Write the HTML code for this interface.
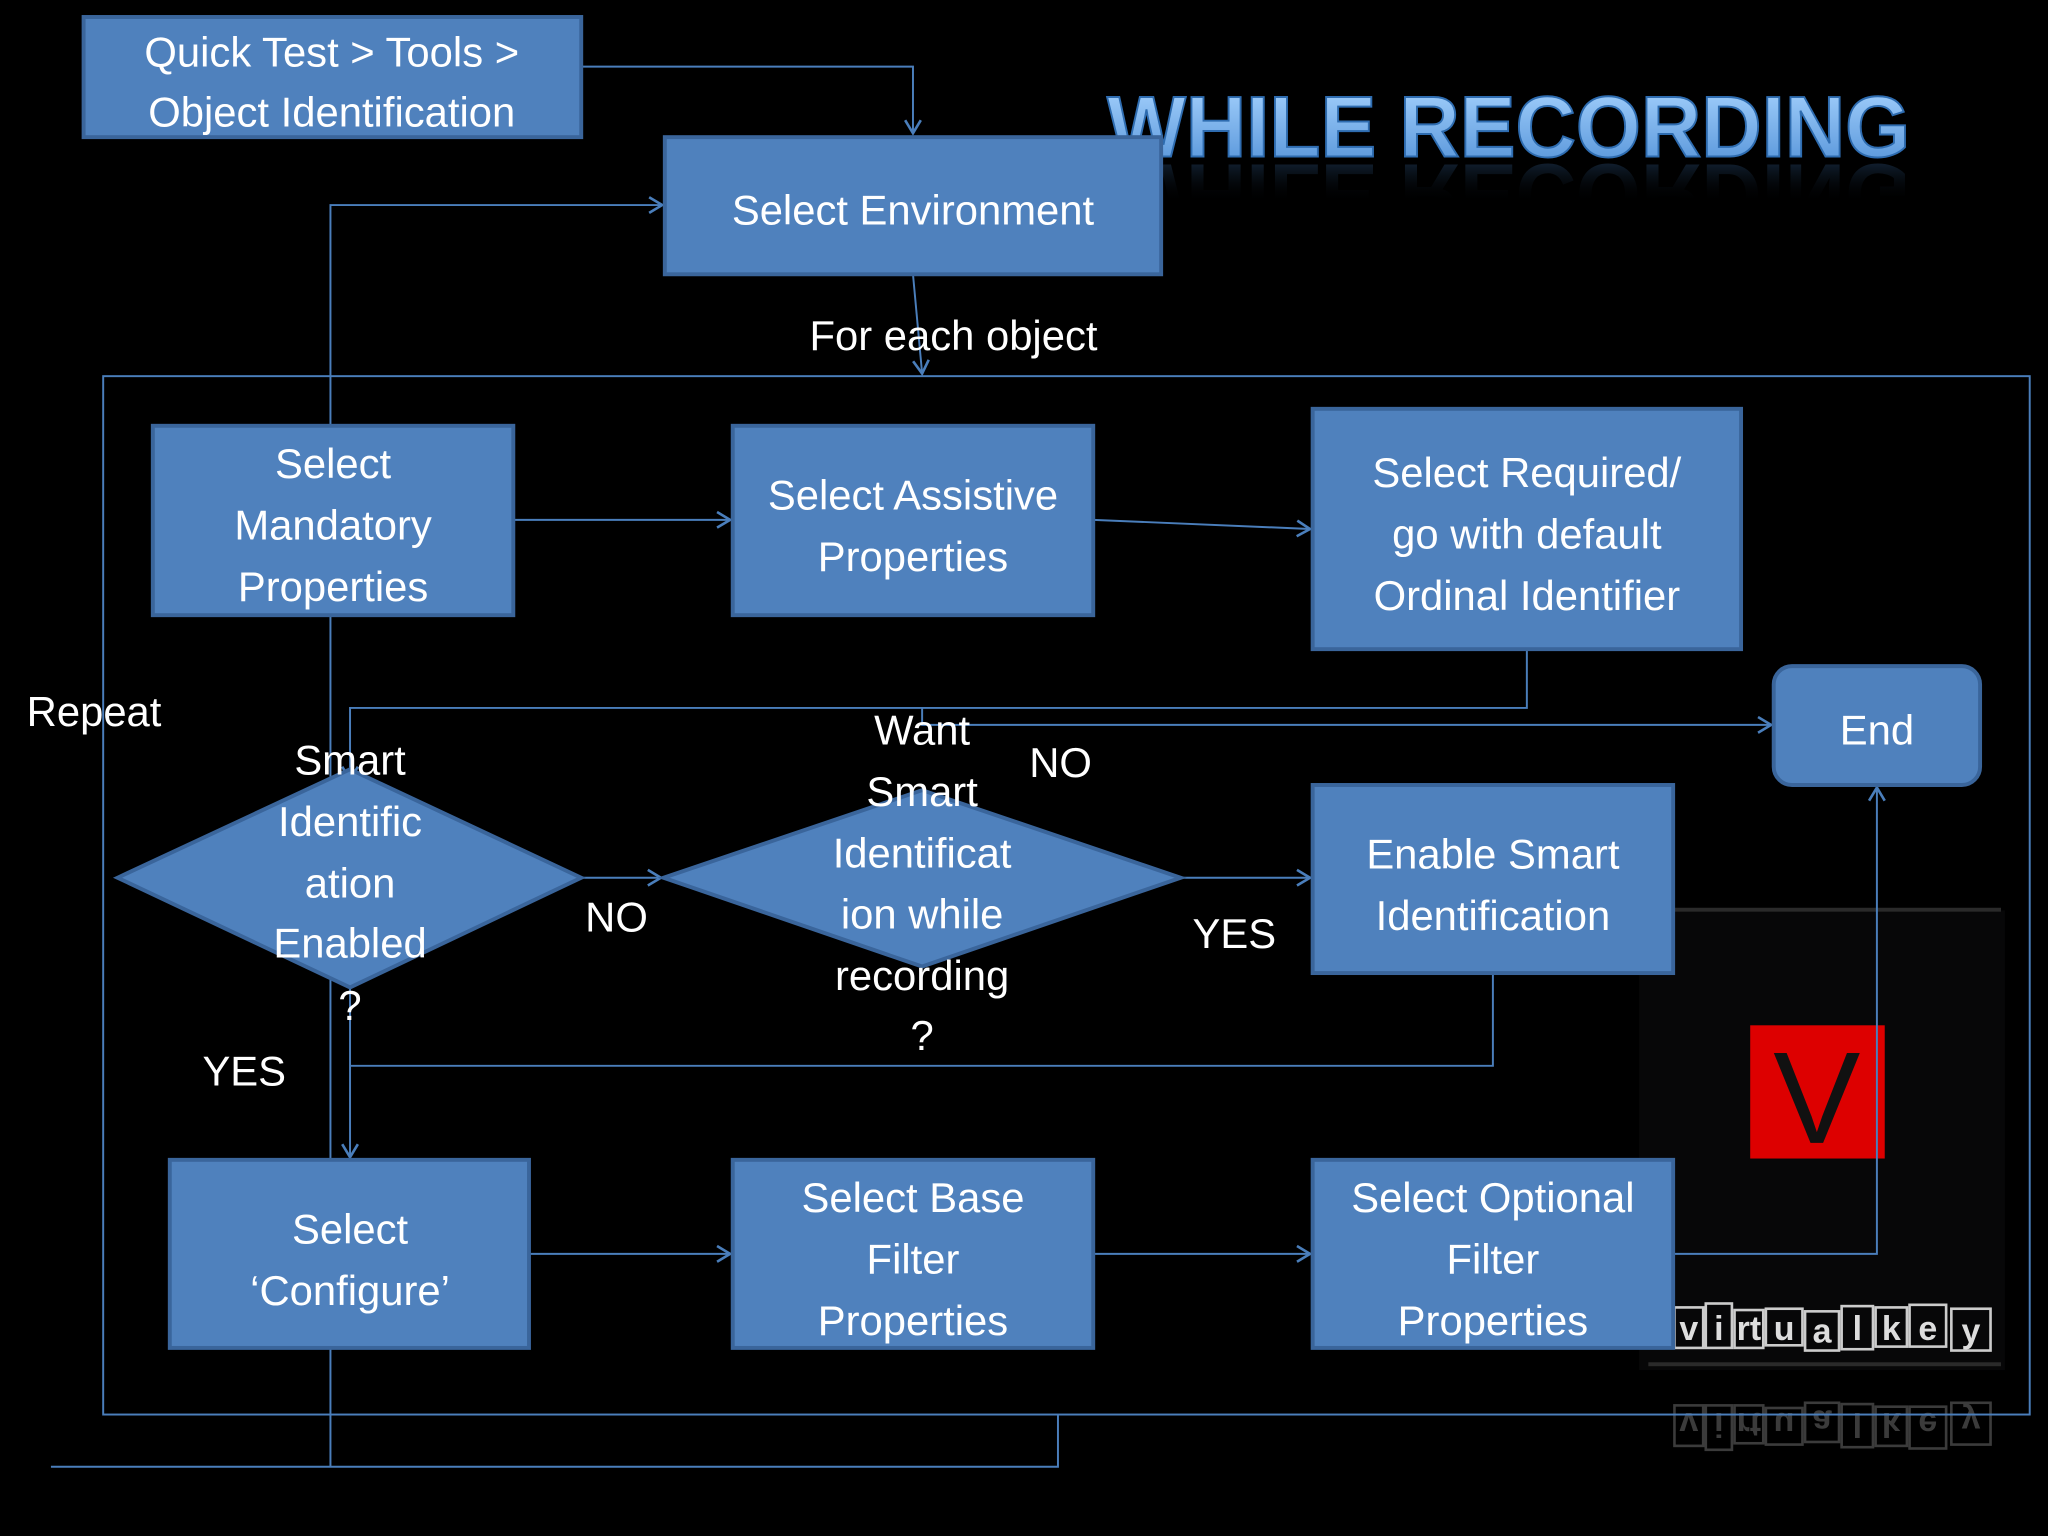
<!DOCTYPE html>
<html><head><meta charset="utf-8"><style>
html,body{margin:0;padding:0;background:#000;}
svg{display:block}
text{font-family:"Liberation Sans",sans-serif;}
</style></head><body>
<svg width="2048" height="1536" viewBox="0 0 1568 1176" xmlns="http://www.w3.org/2000/svg">
<defs>
<marker id="a" markerWidth="14" markerHeight="14" refX="11" refY="7" orient="auto" markerUnits="userSpaceOnUse">
<path d="M1,1 L11,7 L1,13" fill="none" stroke="#4a7ebb" stroke-width="2"/></marker>
<linearGradient id="t" x1="0" y1="0" x2="0" y2="1"><stop offset="0" stop-color="#a8d4ff"/><stop offset="1" stop-color="#4f8fd6"/></linearGradient>
<linearGradient id="r" x1="0" y1="1" x2="0" y2="0"><stop offset="0" stop-color="#3a6aa0" stop-opacity="0.6"/><stop offset="0.6" stop-color="#000" stop-opacity="0"/></linearGradient>
</defs>
<rect width="1568" height="1176" fill="#000"/>
<!-- logo -->
<rect x="1255" y="697" width="280" height="352" fill="#070708"/>
<rect x="1262" y="695" width="270" height="3" fill="#2a2a2a"/>
<rect x="1262" y="1043" width="270" height="3" fill="#2a2a2a"/>
<rect x="1340" y="785" width="103" height="102" fill="#d00"/>
<text x="1391" y="875" font-size="100" text-anchor="middle" fill="#111">V</text>
<g fill="none" stroke="#ccc" stroke-width="2">
<rect x="1282" y="1001" width="22" height="31"/><rect x="1306" y="998" width="20" height="34"/><rect x="1328" y="1003" width="22" height="29"/><rect x="1352" y="1002" width="28" height="28"/><rect x="1382" y="1004" width="26" height="30"/><rect x="1410" y="1000" width="24" height="33"/><rect x="1436" y="1001" width="24" height="30"/><rect x="1462" y="999" width="28" height="32"/><rect x="1494" y="1002" width="30" height="32"/>
</g>
<g fill="#ddd" font-size="26" text-anchor="middle" font-weight="bold">
<text x="1293" y="1026">v</text><text x="1316" y="1026">i</text><text x="1339" y="1026">rt</text><text x="1366" y="1026">u</text><text x="1395" y="1028">a</text><text x="1422" y="1026">l</text><text x="1448" y="1026">k</text><text x="1476" y="1026">e</text><text x="1509" y="1028">y</text>
</g>
<g transform="translate(0,2158) scale(1,-1)" opacity="0.35">
<g fill="none" stroke="#aaa" stroke-width="2">
<rect x="1282" y="1051" width="22" height="31"/><rect x="1306" y="1048" width="20" height="34"/><rect x="1328" y="1053" width="22" height="29"/><rect x="1352" y="1052" width="28" height="28"/><rect x="1382" y="1054" width="26" height="30"/><rect x="1410" y="1050" width="24" height="33"/><rect x="1436" y="1051" width="24" height="30"/><rect x="1462" y="1049" width="28" height="32"/><rect x="1494" y="1052" width="30" height="32"/>
</g>
<g fill="#aaa" font-size="26" text-anchor="middle" font-weight="bold">
<text x="1293" y="1076">v</text><text x="1316" y="1076">i</text><text x="1339" y="1076">rt</text><text x="1366" y="1076">u</text><text x="1395" y="1078">a</text><text x="1422" y="1076">l</text><text x="1448" y="1076">k</text><text x="1476" y="1076">e</text><text x="1509" y="1078">y</text>
</g></g>
<!-- title -->
<g transform="translate(0,246) scale(1,-1)"><text x="1155" y="120" font-size="66" font-weight="bold" text-anchor="middle" fill="url(#r)" textLength="615" lengthAdjust="spacingAndGlyphs">WHILE RECORDING</text></g>
<text x="1155" y="120" font-size="66" font-weight="bold" text-anchor="middle" fill="url(#t)" stroke="#2e6cb0" stroke-width="1.5" textLength="615" lengthAdjust="spacingAndGlyphs">WHILE RECORDING</text>
<!-- frame -->
<rect x="79" y="288" width="1475" height="795" fill="none" stroke="#4a7ebb" stroke-width="1.5"/>
<g fill="none" stroke="#4a7ebb" stroke-width="1.5">
<polyline points="445,51 699,51 699,102" marker-end="url(#a)"/>
<polyline points="699,210 706,286" marker-end="url(#a)"/>
<polyline points="253,326 253,157 507,157" marker-end="url(#a)"/>
<line x1="393" y1="398" x2="559" y2="398" marker-end="url(#a)"/>
<line x1="837" y1="398" x2="1003" y2="405" marker-end="url(#a)"/>
<polyline points="1169,497 1169,542 268,542 268,597" marker-end="url(#a)"/>
<polyline points="706,542 706,555 1356,555" marker-end="url(#a)"/>
<line x1="445" y1="672" x2="506" y2="672" marker-end="url(#a)"/>
<line x1="904" y1="672" x2="1003" y2="672" marker-end="url(#a)"/>
<polyline points="1143,745 1143,816 268,816"/>
<line x1="268" y1="756" x2="268" y2="886" marker-end="url(#a)"/>
<line x1="253" y1="471" x2="253" y2="1123"/>
<polyline points="39,1123 810,1123 810,1083"/>
<line x1="405" y1="960" x2="559" y2="960" marker-end="url(#a)"/>
<line x1="837" y1="960" x2="1003" y2="960" marker-end="url(#a)"/>
<polyline points="1281,960 1437,960 1437,603" marker-end="url(#a)"/>
</g>
<g fill="#4f81bd" stroke="#3a659b" stroke-width="3">
<rect x="64" y="13" width="381" height="92"/>
<rect x="509" y="105" width="380" height="105"/>
<rect x="117" y="326" width="276" height="145"/>
<rect x="561" y="326" width="276" height="145"/>
<rect x="1005" y="313" width="328" height="184"/>
<rect x="1358" y="510" width="158" height="91" rx="14"/>
<polygon points="90,672 268,589 445,672 268,756"/>
<polygon points="508,672 706,605 904,672 706,740"/>
<rect x="1005" y="601" width="276" height="144"/>
<rect x="130" y="888" width="275" height="144"/>
<rect x="561" y="888" width="276" height="144"/>
<rect x="1005" y="888" width="276" height="144"/>
</g>
<g fill="#fff" font-size="32" text-anchor="middle">
<text x="254" y="51">Quick Test &gt; Tools &gt;</text>
<text x="254" y="97">Object Identification</text>
<text x="699" y="172">Select Environment</text>
<text x="255" y="366">Select</text><text x="255" y="413">Mandatory</text><text x="255" y="460">Properties</text>
<text x="699" y="390">Select Assistive</text><text x="699" y="437">Properties</text>
<text x="1169" y="373">Select  Required/</text><text x="1169" y="420">go with default</text><text x="1169" y="467">Ordinal Identifier</text>
<text x="1437" y="570">End</text>
<text x="268" y="593">Smart</text><text x="268" y="640">Identific</text><text x="268" y="687">ation</text><text x="268" y="733">Enabled</text><text x="268" y="781">?</text>
<text x="706" y="570">Want</text><text x="706" y="617">Smart</text><text x="706" y="664">Identificat</text><text x="706" y="711">ion while</text><text x="706" y="758">recording</text><text x="706" y="804">?</text>
<text x="1143" y="665">Enable Smart</text><text x="1143" y="712">Identification</text>
<text x="268" y="952">Select</text><text x="268" y="999">‘Configure’</text>
<text x="699" y="928">Select Base</text><text x="699" y="975">Filter</text><text x="699" y="1022">Properties</text>
<text x="1143" y="928">Select Optional</text><text x="1143" y="975">Filter</text><text x="1143" y="1022">Properties</text>
<text x="730" y="268">For  each object</text>
<text x="72" y="556">Repeat</text>
<text x="472" y="713">NO</text>
<text x="812" y="595">NO</text>
<text x="945" y="726">YES</text>
<text x="187" y="831">YES</text>
</g>
</svg>
</body></html>
